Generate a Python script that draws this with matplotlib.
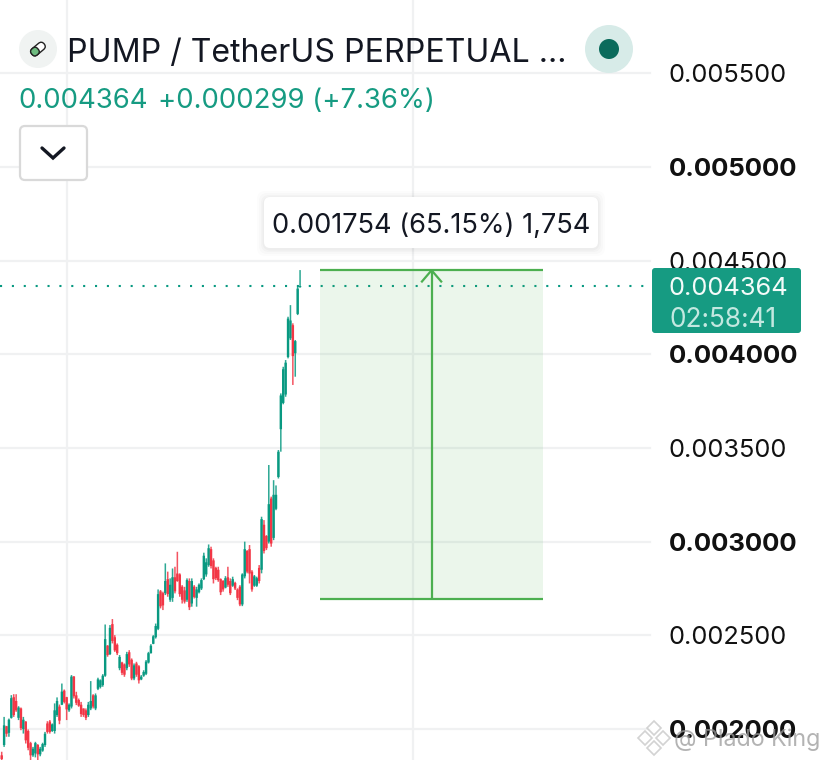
import numpy as np
import matplotlib
matplotlib.use("Agg")
import matplotlib.pyplot as plt
from matplotlib.patches import Circle, FancyBboxPatch, Polygon, Rectangle
from matplotlib.transforms import Affine2D, blended_transform_factory

plt.rcParams['font.family'] = ['Inter', 'DejaVu Sans']

# candle values, in millionths of a USDT
opens = [
    1860, 1915, 2015, 1980, 2060, 2170, 2150, 2060, 2110, 2000,
    2040, 1990, 1925, 1860, 1870, 1915, 1865, 1885, 1915, 2030,
    2040, 1990, 1990, 2075, 2120, 2130, 2205, 2170, 2100, 2120,
    2280, 2180, 2155, 2130, 2110, 2100, 2075, 2110, 2180, 2110,
    2215, 2225, 2235, 2285, 2445, 2400, 2560, 2490, 2450, 2325,
    2355, 2345, 2325, 2410, 2370, 2270, 2350, 2335, 2265, 2285,
    2295, 2355, 2405, 2455, 2490, 2535,
    2735, 2725, 2725, 2800, 2690, 2700, 2810, 2830, 2825, 2760,
    2740, 2690, 2790, 2670, 2760, 2700, 2730, 2750, 2800, 2825,
    2875, 2960, 2900, 2860, 2850, 2800, 2790, 2755, 2810, 2790,
    2765, 2780, 2745, 2760, 2665, 2815, 2950, 2960, 2840, 2765,
    2765, 2860, 2850,
    3090, 3030, 3000, 3230, 3020, 3175, 3345, 3600, 3740, 3785,
    3985, 4085, 4155, 4005, 4215, 4358,
]
highs = [
    1879, 2065, 2017, 2056, 2181, 2186, 2186, 2122, 2115, 2065,
    2042, 1998, 1932, 1905, 1932, 1920, 1905, 1927, 1985, 2042,
    2048, 2030, 2137, 2169, 2131, 2243, 2211, 2172, 2137, 2288,
    2283, 2199, 2163, 2145, 2110, 2110, 2145, 2256, 2186, 2190,
    2274, 2265, 2293, 2558, 2448, 2555, 2587, 2501, 2457, 2395,
    2359, 2350, 2412, 2421, 2377, 2350, 2359, 2341, 2288, 2314,
    2368, 2412, 2453, 2501, 2563, 2745,
    2742, 2733, 2884, 2840, 2804, 2857, 2866, 2946, 2831, 2768,
    2759, 2804, 2804, 2804, 2768, 2759, 2777, 2804, 2941, 2911,
    2985, 2973, 2911, 2866, 2866, 2804, 2795, 2816, 2866, 2804,
    2813, 2786, 2751, 2768, 2831, 3000, 2955, 2982, 2848, 2822,
    2813, 2875, 3133,
    3115, 3035, 3409, 3240, 3328, 3300, 3489, 3791, 3933, 3969,
    4200, 4262, 4165, 4076, 4360, 4449,
]
lows = [
    1834, 1905, 1959, 1959, 2056, 2065, 2092, 2048, 1994, 1976,
    1923, 1887, 1834, 1852, 1849, 1834, 1855, 1879, 1905, 1976,
    1976, 1985, 1976, 2065, 2026, 2128, 2137, 2048, 2092, 2110,
    2163, 2128, 2119, 2065, 2065, 2048, 2065, 2101, 2110, 2101,
    2208, 2217, 2226, 2279, 2386, 2395, 2457, 2412, 2395, 2314,
    2288, 2279, 2314, 2332, 2261, 2261, 2279, 2243, 2261, 2279,
    2288, 2350, 2403, 2453, 2483, 2528,
    2644, 2635, 2715, 2706, 2679, 2679, 2724, 2786, 2706, 2670,
    2670, 2679, 2635, 2653, 2697, 2653, 2724, 2742, 2795, 2813,
    2866, 2857, 2777, 2795, 2786, 2715, 2733, 2751, 2759, 2715,
    2759, 2742, 2688, 2656, 2656, 2804, 2831, 2777, 2733, 2759,
    2759, 2777, 2831,
    2937, 2955, 2990, 2973, 3008, 3168, 3337, 3480, 3733, 3773,
    3978, 4076, 3836, 3880, 4209, 4355,
]
closes = [
    1840, 2020, 1975, 2050, 2165, 2075, 2100, 2115, 2005, 2050,
    1940, 1900, 1860, 1895, 1925, 1865, 1895, 1920, 1975, 1985,
    1985, 2025, 2100, 2150, 2045, 2200, 2145, 2105, 2130, 2280,
    2175, 2140, 2125, 2080, 2075, 2060, 2130, 2150, 2120, 2180,
    2265, 2260, 2285, 2480, 2395, 2540, 2470, 2420, 2405, 2385,
    2300, 2290, 2400, 2345, 2270, 2340, 2290, 2260, 2280, 2305,
    2360, 2405, 2445, 2495, 2550, 2720,
    2655, 2660, 2790, 2720, 2770, 2810, 2735, 2790, 2720, 2690,
    2680, 2795, 2650, 2790, 2705, 2745, 2770, 2795, 2925, 2890,
    2965, 2870, 2800, 2805, 2795, 2730, 2745, 2805, 2770, 2725,
    2800, 2750, 2700, 2665, 2825, 2960, 2840, 2830, 2745, 2815,
    2805, 2790, 3120,
    2950, 2965, 3200, 2990, 3250, 3250, 3480, 3780, 3920, 3955,
    4190, 4180, 3990, 4070, 4350, 4364,
]

price_ticks = [0.0020, 0.0025, 0.0030, 0.0035, 0.0040, 0.0045, 0.0050, 0.0055]
bold_ticks = [0.0020, 0.0030, 0.0040, 0.0050]
time_grid = [27.1, 170.9]

last_price = 0.004364
countdown = "02:58:41"
measure_low = 0.002694
measure_high = 0.004448
measure_start = 132.3
measure_end = 225.0
measure_text = "0.001754 (65.15%) 1,754"
title = "PUMP / TetherUS PERPETUAL ..."
change_text = "+0.000299 (+7.36%)"
watermark = "@ Plado King"

UP = "#089981"
DOWN = "#f23645"
TEAL = "#169b82"
MEASURE = "#4caf50"
GRID = "#f0f1f2"
INK = "#131722"

fig = plt.figure(figsize=(8.28, 7.6), dpi=100, facecolor="white")

# main chart fills the whole picture, x in candles and y in price
ax = fig.add_axes([0, 0, 1, 1])
ax.set_xlim(-0.707, 343.4)
ax.set_ylim(0.001835, 0.00589)
ax.axis("off")

o = np.array(opens) * 1e-6
h = np.array(highs) * 1e-6
l = np.array(lows) * 1e-6
c = np.array(closes) * 1e-6
x = np.arange(len(o))
colors = [UP if b >= a else DOWN for a, b in zip(o, c)]

grid_right = 650 / 828
for tick in price_ticks:
    ax.axhline(tick, xmin=0, xmax=grid_right, color=GRID, lw=1.6, zorder=1)
for t in time_grid:
    ax.axvline(t, color=GRID, lw=1.6, zorder=1)

# no snapping, the source is a soft screenshot
ax.vlines(x, l, h, colors=colors, lw=1.1, zorder=3, snap=False, alpha=0.85)
bars = ax.bar(x, np.abs(c - o), bottom=np.minimum(o, c), width=1.0, color=colors, lw=0, zorder=4)
for bar in bars:
    bar.set_snap(False)

# last price line
ax.axhline(last_price, xmin=0, xmax=grid_right, color=UP, lw=1.5,
           ls=(0, (1, 4.7)), zorder=2)

# measure tool
ax.add_patch(Rectangle((measure_start, measure_low), measure_end - measure_start,
                       measure_high - measure_low, facecolor=MEASURE, alpha=0.11,
                       lw=0, zorder=2))
ax.hlines([measure_low, measure_high], measure_start, measure_end, color=MEASURE,
          lw=1.6, zorder=5)
mid = (measure_start + measure_end) / 2
ax.vlines(mid, measure_low, measure_high, color=MEASURE, lw=1.6, zorder=5)
ax.plot([mid - 4, mid, mid + 4], [measure_high - 0.00006, measure_high, measure_high - 0.00006],
        color=MEASURE, lw=1.6, zorder=5)

# price scale labels, x in pixels and y in price
trans = blended_transform_factory(Affine2D().scale(1 / 828, 1) + ax.transAxes, ax.transData)
for tick in price_ticks:
    is_bold = any(abs(tick - b) < 1e-9 for b in bold_ticks)
    ax.text(669, tick, f"{tick:.6f}", transform=trans, ha="left", va="center_baseline",
            fontsize=18.5 if is_bold else 18.3, color="#111111",
            fontweight="bold" if is_bold else "normal", zorder=6)

# overlay in pixels for the app furniture
ui = fig.add_axes([0, 0, 1, 1], facecolor="none")
ui.set_xlim(0, 828)
ui.set_ylim(760, 0)
ui.axis("off")

# tooltip of the measure tool
for grow, alpha in ((7, 0.012), (5, 0.015), (3, 0.02), (1.5, 0.025)):
    ui.add_patch(FancyBboxPatch((264 - grow, 197 - grow + 1), 334 + 2 * grow, 51 + 2 * grow,
                                boxstyle="round,pad=0,rounding_size=8", facecolor="black",
                                alpha=alpha, lw=0))
ui.add_patch(FancyBboxPatch((264, 197), 334, 51, boxstyle="round,pad=0,rounding_size=6",
                            facecolor="white", lw=0))
ui.text(431, 223, measure_text, ha="center", va="center_baseline", fontsize=19.6, color=INK)

# last price label
ui.add_patch(FancyBboxPatch((652, 268), 149, 65, boxstyle="round,pad=0,rounding_size=3",
                            facecolor=TEAL, lw=0))
ui.text(669, 286, f"{last_price:.6f}", ha="left", va="center_baseline", fontsize=18.3, color="#f4fbf9")
ui.text(670, 317, countdown, ha="left", va="center_baseline", fontsize=18.9, color="#c3e8e0")

# header
pill = Affine2D().rotate_deg(-40).translate(38, 49) + ui.transData
ui.add_patch(Circle((38, 49), 19, facecolor="#f0f3f2", lw=0))
ui.add_patch(FancyBboxPatch((-8, -4), 16, 8, boxstyle="round,pad=0,rounding_size=4",
                            facecolor="white", edgecolor="#222222", lw=1, transform=pill))
ui.add_patch(FancyBboxPatch((-8, -4), 8, 8, boxstyle="round,pad=0,rounding_size=3.5",
                            facecolor="#6dbb7f", edgecolor="#222222", lw=1, transform=pill))
ui.text(67, 50, title, ha="left", va="center_baseline", fontsize=23.1, color=INK)
ui.add_patch(Circle((609, 49), 24, facecolor="#d7ebe8", lw=0))
ui.add_patch(Circle((609, 49), 10, facecolor="#0b6b5c", lw=0))

ui.text(18, 98, f"{last_price:.6f}", ha="left", va="center_baseline", fontsize=19.8, color=TEAL)
ui.text(158, 98, change_text, ha="left", va="center_baseline", fontsize=19.8, color=TEAL)

# collapse button
ui.add_patch(FancyBboxPatch((20, 126), 67, 54, boxstyle="round,pad=0,rounding_size=5",
                            facecolor="white", edgecolor="#d9d9d9", lw=1.6))
ui.plot([42, 53, 64], [148, 158, 148], color="#131722", lw=2.4, solid_capstyle="round",
        solid_joinstyle="miter")

# watermark
for cx, cy, r in ((654, 728, 7), (645, 738, 7), (663, 738, 7), (654, 748, 7)):
    ui.add_patch(Polygon([(cx, cy - r), (cx + r, cy), (cx, cy + r), (cx - r, cy)], closed=True,
                         facecolor="white", edgecolor="#c8c8c8", lw=1.2, alpha=0.8))
ui.text(674, 737, watermark, ha="left", va="center_baseline", fontsize=16.8, color="#9a9a9a", alpha=0.75)

fig.savefig("out.png", dpi=100)
